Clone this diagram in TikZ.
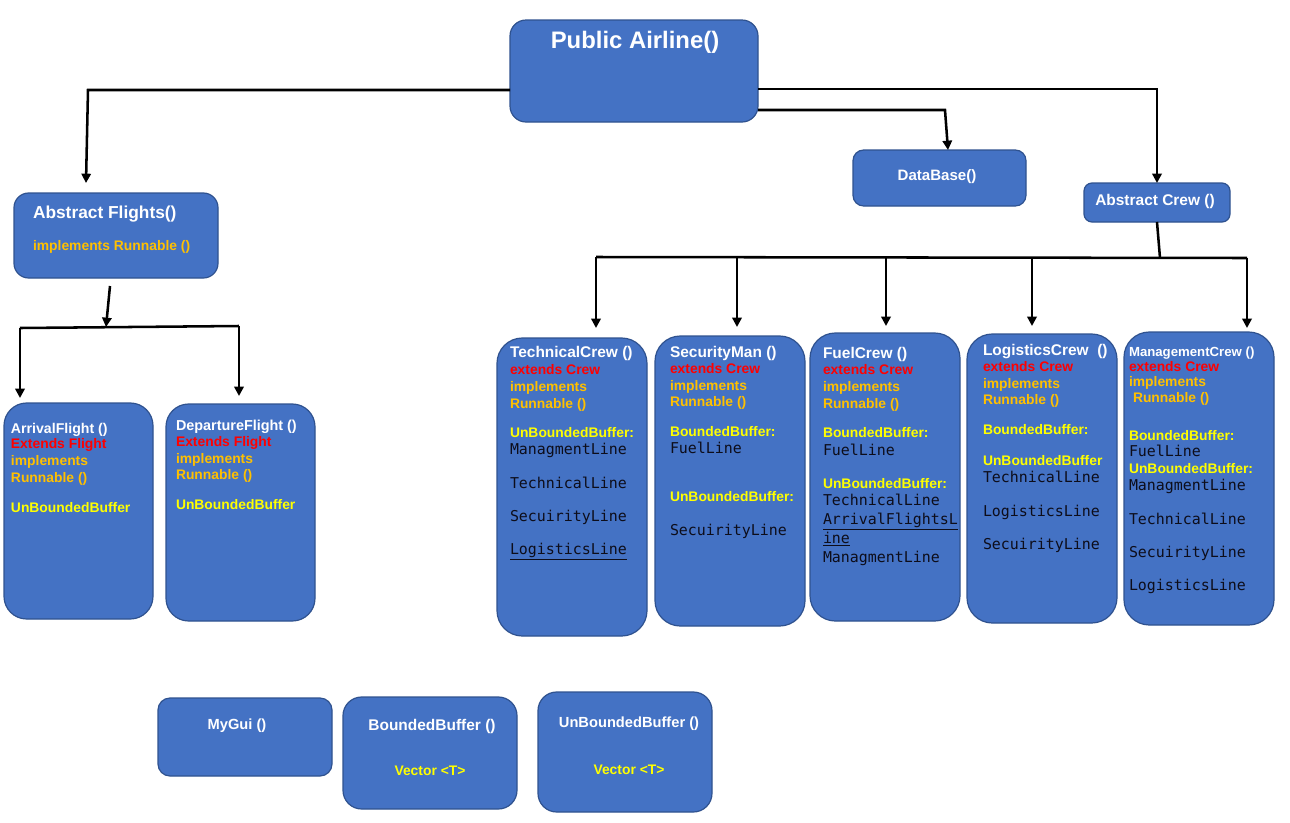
\documentclass[tikz,border=0pt]{standalone}
\usepackage{fontspec}
\setmainfont{Liberation Sans}
\setmonofont{DejaVu Sans Mono}
\usetikzlibrary{arrows.meta}
\definecolor{boxblue}{HTML}{4472C4}
\definecolor{boxedge}{HTML}{2F528F}
\definecolor{tred}{HTML}{FF0000}
\definecolor{torange}{HTML}{FFC000}
\definecolor{tyellow}{HTML}{FFFF00}
\definecolor{tmono}{HTML}{0D0D1A}
\newcounter{tlc}
\newcommand\tln[4]{\stepcounter{tlc}\node[txt,#3] (tl\arabic{tlc}) at (#1,#2+5) {#4};}
\newcommand\bx[7]{\node[box,rounded corners=#7,minimum width=#4,minimum height=#5] (#1) at (#2,#3) {#6};}
\tikzset{
  box/.style={draw=boxedge,line width=0.9pt,fill=boxblue,inner sep=0pt,outer sep=0pt},
  txt/.style={anchor=base west,inner sep=0pt,outer sep=0pt,text=white,font=\bfseries\fontsize{10.4}{12}\selectfont},
  ttl/.style={text=white,font=\bfseries\fontsize{11.6}{13}\selectfont},
  rd/.style={text=tred},
  org/.style={text=torange},
  yel/.style={text=tyellow},
  mono/.style={text=tmono,font=\ttfamily\fontsize{11.2}{13}\selectfont},
  ctr/.style={anchor=center,inner sep=0pt,text=white,font=\bfseries\fontsize{11.6}{13}\selectfont},
  conn/.style={line width=1.9pt,draw=black},
  arr/.style={-{Triangle[length=7pt,width=7pt]}}
}
\begin{document}
\begin{tikzpicture}[x=0.75pt,y=-0.75pt]
\useasboundingbox (0,0) rectangle (1290,822);
% boxes
\bx{A}{634}{71}{186pt}{76.5pt}{}{12pt}
\bx{DB}{939.5}{178}{129.75pt}{42pt}{}{8pt}
\bx{AC}{1157}{202.5}{109.5pt}{29.25pt}{}{6pt}
\bx{AF}{116}{235.5}{153pt}{63.75pt}{}{11pt}
\bx{AR}{78.5}{511}{111.75pt}{162pt}{}{17pt}
\bx{DF}{240.5}{512.5}{111.75pt}{162.75pt}{}{17pt}
\bx{TC}{572}{487}{112.5pt}{223.5pt}{}{19pt}
\bx{SM}{730}{481}{112.5pt}{217.5pt}{}{19pt}
\bx{FC}{885}{477}{112.5pt}{216pt}{}{19pt}
\bx{LC}{1042}{478.5}{112.5pt}{216.75pt}{}{19pt}
\bx{MC}{1199}{478.5}{112.5pt}{219.75pt}{}{19pt}
\bx{MG}{245}{737}{130.5pt}{58.5pt}{}{9pt}
\bx{BB}{430}{753}{130.5pt}{84pt}{}{14pt}
\bx{UB}{625}{752}{130.5pt}{90pt}{}{14pt}
% centred titles
\node[ctr,font=\bfseries\fontsize{17.9}{20}\selectfont] (At) at (635,42) {Public Airline()};
\node[ctr,font=\bfseries\fontsize{11.3}{13}\selectfont] (DBt) at (937,177) {DataBase()};
\node[ctr] (ACt) at (1155,201) {Abstract Crew ()};
\node[ctr,font=\bfseries\fontsize{11}{13}\selectfont] (MGt) at (237,726) {MyGui ()};
\node[ctr] (BBt) at (432,726) {BoundedBuffer ()};
\node[ctr,font=\bfseries\fontsize{11}{13}\selectfont] (UBt) at (629,724) {UnBoundedBuffer ()};
\node[ctr,text=tyellow,font=\bfseries\fontsize{10.4}{12}\selectfont] (BBv) at (430,771) {Vector <T>};
\node[ctr,text=tyellow,font=\bfseries\fontsize{10.4}{12}\selectfont] (UBv) at (629,770) {Vector <T>};
% Abstract Flights
\tln{33}{213}{font=\bfseries\fontsize{13}{15}\selectfont}{Abstract Flights()}
\tln{33}{245}{org}{implements Runnable ()}
% ArrivalFlight
\tln{11}{428}{ttl,font=\bfseries\fontsize{10.6}{13}\selectfont}{ArrivalFlight ()}
\tln{11}{443}{rd}{Extends Flight}
\tln{11}{460}{org}{implements}
\tln{11}{477}{org}{Runnable ()}
\tln{11}{507}{yel}{UnBoundedBuffer}
% DepartureFlight
\tln{176}{425}{ttl,font=\bfseries\fontsize{10.8}{13}\selectfont}{DepartureFlight ()}
\tln{176}{441}{rd}{Extends Flight}
\tln{176}{458}{org}{implements}
\tln{176}{474}{org}{Runnable ()}
\tln{176}{504}{yel}{UnBoundedBuffer}
% TechnicalCrew
\tln{510}{352}{ttl}{TechnicalCrew ()}
\tln{510}{369}{rd}{extends Crew}
\tln{510}{386}{org}{implements}
\tln{510}{403}{org}{Runnable ()}
\tln{510}{432}{yel}{UnBoundedBuffer:}
\tln{510}{449}{mono}{ManagmentLine}
\tln{510}{483}{mono}{TechnicalLine}
\tln{510}{516}{mono}{SecuirityLine}
\tln{510}{549}{mono}{\underline{LogisticsLine}}
% SecurityMan
\tln{670}{352}{ttl}{SecurityMan ()}
\tln{670}{368}{rd}{extends Crew}
\tln{670}{385}{org}{implements}
\tln{670}{401}{org}{Runnable ()}
\tln{670}{431}{yel}{BoundedBuffer:}
\tln{670}{448}{mono}{FuelLine}
\tln{670}{496}{yel}{UnBoundedBuffer:}
\tln{670}{530}{mono}{SecuirityLine}
% FuelCrew
\tln{823}{353}{ttl}{FuelCrew ()}
\tln{823}{369}{rd}{extends Crew}
\tln{823}{386}{org}{implements}
\tln{823}{403}{org}{Runnable ()}
\tln{823}{432}{yel}{BoundedBuffer:}
\tln{823}{450}{mono}{FuelLine}
\tln{823}{483}{yel}{UnBoundedBuffer:}
\tln{823}{500}{mono}{TechnicalLine}
\tln{823}{519}{mono}{\underline{ArrivalFlightsL}}
\tln{823}{538}{mono}{\underline{ine}}
\tln{823}{557}{mono}{ManagmentLine}
% LogisticsCrew
\tln{983}{350}{ttl}{LogisticsCrew\ \ ()}
\tln{983}{366}{rd}{extends Crew}
\tln{983}{383}{org}{implements}
\tln{983}{399}{org}{Runnable ()}
\tln{983}{429}{yel}{BoundedBuffer:}
\tln{983}{460}{yel}{UnBoundedBuffer}
\tln{983}{477}{mono}{TechnicalLine}
\tln{983}{511}{mono}{LogisticsLine}
\tln{983}{544}{mono}{SecuirityLine}
% ManagementCrew
\tln{1129}{351}{ttl,font=\bfseries\fontsize{9.9}{12}\selectfont}{ManagementCrew ()}
\tln{1129}{366}{rd}{extends Crew}
\tln{1129}{381}{org}{implements}
\tln{1133}{397}{org}{Runnable ()}
\tln{1129}{435}{yel}{BoundedBuffer:}
\tln{1129}{451}{mono}{FuelLine}
\tln{1129}{468}{yel}{UnBoundedBuffer:}
\tln{1129}{485}{mono}{ManagmentLine}
\tln{1129}{519}{mono}{TechnicalLine}
\tln{1129}{552}{mono}{SecuirityLine}
\tln{1129}{585}{mono}{LogisticsLine}
% connectors
\coordinate (cL) at (88,90);
\coordinate (eAF) at (86,183);
\draw[conn,arr] (A.west |- cL) -- (cL) -- (eAF);
\coordinate (cR) at (1157,89);
\draw[conn,arr] (A.east |- cR) -- (cR) -- (AC.north);
\coordinate (cD) at (945,110);
\coordinate (eDB) at (948,150);
\draw[conn,arr] (A.east |- cD) -- (cD) -- (eDB);
\coordinate (sAF) at (110,286);
\coordinate (jF) at (106,327);
\draw[conn,arr] (sAF) -- (jF);
\coordinate (bF1) at (20,328);
\coordinate (bF2) at (239,326);
\coordinate (eAR) at (20,398);
\coordinate (eDF) at (239,396);
\draw[conn] (bF1) -- (bF2);
\draw[conn,arr] (bF1) -- (eAR);
\draw[conn,arr] (bF2) -- (eDF);
\coordinate (jC) at (1160,258);
\draw[conn] (AC.south) -- (jC);
\coordinate (bC1) at (596,257);
\coordinate (bC2) at (1247,258);
\draw[conn] (bC1) -- (bC2);
\coordinate (bC3) at (737,257);
\coordinate (bC4) at (886,257);
\coordinate (bC5) at (1032,258);
\coordinate (eTC) at (596,328);
\coordinate (eSM) at (737,327);
\coordinate (eFC) at (886,326);
\coordinate (eLC) at (1032,326);
\coordinate (eMC) at (1247,328);
\draw[conn,arr] (bC1) -- (eTC);
\draw[conn,arr] (bC3) -- (eSM);
\draw[conn,arr] (bC4) -- (eFC);
\draw[conn,arr] (bC5) -- (eLC);
\draw[conn,arr] (bC2) -- (eMC);
\end{tikzpicture}
\end{document}
